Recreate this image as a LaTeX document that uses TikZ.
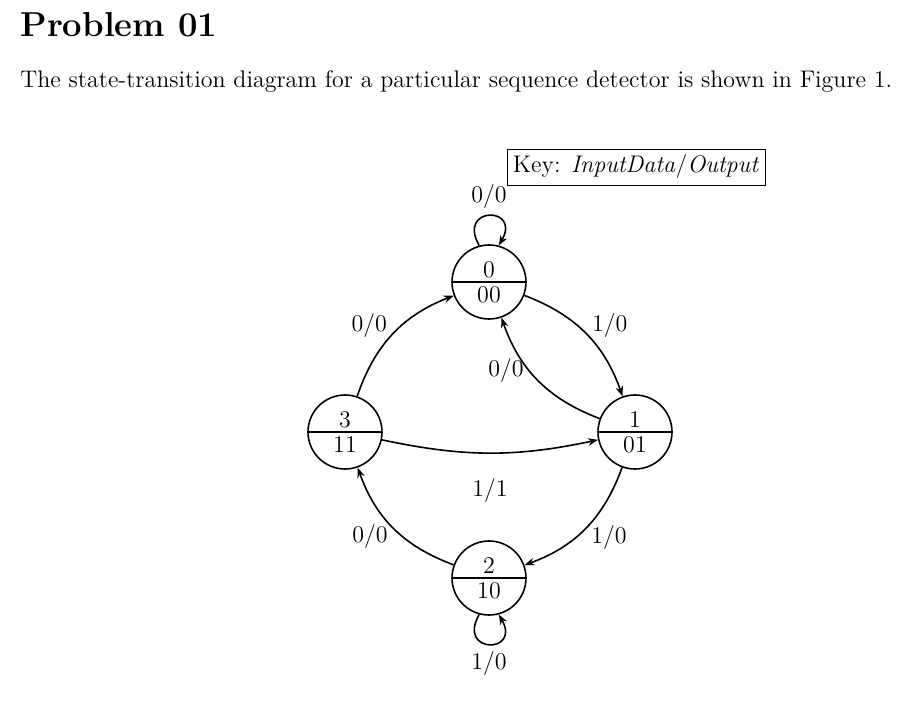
\documentclass[tikz,border=0pt]{standalone}
\usetikzlibrary{arrows.meta}
\begin{document}
\begin{tikzpicture}[x=0.5pt,y=-0.5pt,font=\fontsize{12}{14}\selectfont,
  st/.style={draw,circle,thick,minimum size=37pt,inner sep=0pt},
  edge/.style={thick,-{Stealth[length=5pt]}}]
\useasboundingbox (0,0) rectangle (921,704);
\node[anchor=west,inner sep=0pt,font=\fontsize{17.3}{20}\selectfont\bfseries] (title) at (20,25) {Problem 01};
\node[anchor=west,inner sep=0pt] (txt) at (20,82) {The state-transition diagram for a particular sequence detector is shown in Figure 1.};
\node[draw,inner sep=3pt] (key) at (636,167) {Key: \textit{InputData}/\textit{Output}};
\node[st] (s0) at (489,282) {};
\node[st] (s1) at (635,432) {};
\node[st] (s2) at (489,578) {};
\node[st] (s3) at (345,432) {};
\foreach \s/\a/\b in {s0/0/00,s1/1/01,s2/2/10,s3/3/11}{
  \draw[thick] (\s.west) -- (\s.east);
  \node[anchor=south,inner sep=2pt] at (\s.center) {\a};
  \node[anchor=north,inner sep=2pt] at (\s.center) {\b};
}
\draw[edge] (s0) to[bend left=25] node[pos=0.55,above right=-3pt] {1/0} (s1);
\draw[edge] (s1) to[bend left=25] node[pos=0.6,left=-1pt] {0/0} (s0);
\draw[edge] (s1) to[bend left=25] node[pos=0.45,below right=-3pt] {1/0} (s2);
\draw[edge] (s2) to[bend left=25] node[pos=0.55,below left=-3pt] {0/0} (s3);
\draw[edge] (s3) to[bend left=25] node[pos=0.45,above left=-3pt] {0/0} (s0);
\draw[edge] (s3) to[bend right=12] node[pos=0.5,below=9pt] {1/1} (s1);
\draw[edge] (s0.105) to[out=120,in=60,looseness=6] node[above] {0/0} (s0.75);
\draw[edge] (s2.255) to[out=240,in=300,looseness=6] node[below] {1/0} (s2.285);
\end{tikzpicture}
\end{document}
